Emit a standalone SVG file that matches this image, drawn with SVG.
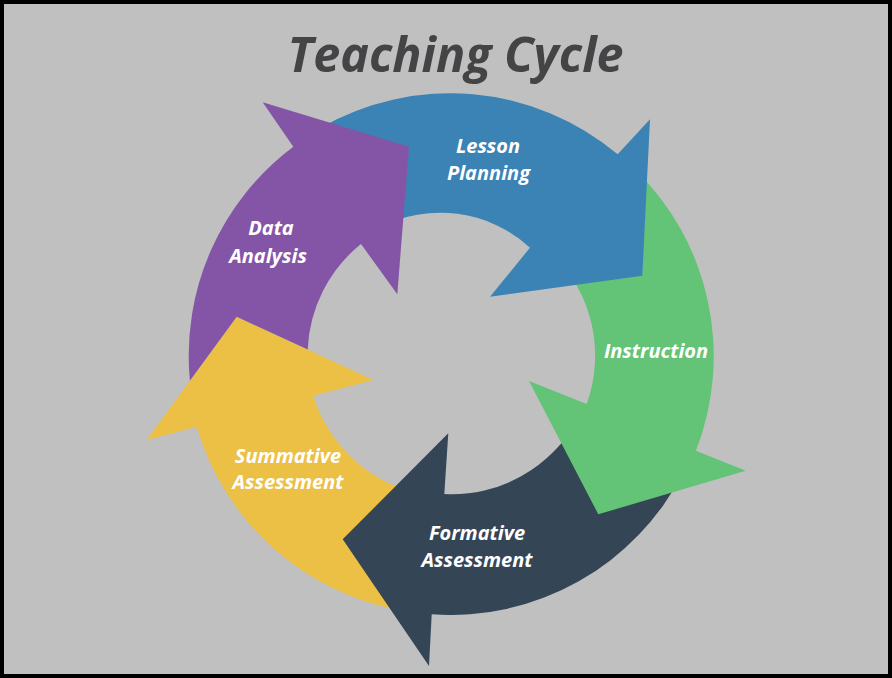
<svg xmlns="http://www.w3.org/2000/svg" width="892" height="678" viewBox="0 0 892 678">
  <style>
    .title { font-family: "Open Sans", "Liberation Sans", sans-serif; font-weight: 700; font-style: italic; font-size: 48px; fill: #444446; }
    .label { font-family: "Open Sans", "Liberation Sans", sans-serif; font-weight: 700; font-style: italic; font-size: 20px; fill: #ffffff; text-anchor: middle; }
  </style>
  <rect x="0" y="0" width="892" height="678" fill="#000000"/>
  <rect x="4" y="4" width="884" height="670" fill="#c0c0c0"/>
  <text class="title" x="455.5" y="72" text-anchor="middle" textLength="336" lengthAdjust="spacingAndGlyphs">Teaching Cycle</text>

  <g id="connectors"></g>

  <g id="summative-assessment">
    <path fill="#ecc045" d="M409.7,611.8 A261,261 0 0 1 196.7,426.7 L146.7,440 L236.7,316.7 L373.3,380 L313.3,395.7 A143,143 0 0 0 428.1,495.2 Z"/>
    <text class="label" x="288" y="463">Summative</text>
    <text class="label" x="288" y="489">Assessment</text>
  </g>

  <g id="formative-assessment">
    <path fill="#344556" d="M683.1,472.5 A261,261 0 0 1 431.7,614.3 L429,666 L342.7,539.3 L448.3,433.3 L444.3,494 A143,143 0 0 0 577.9,418.9 Z"/>
    <text class="label" x="477" y="540">Formative</text>
    <text class="label" x="477" y="567">Assessment</text>
  </g>

  <g id="instruction">
    <path fill="#63c477" d="M635.1,169.4 A261,261 0 0 1 696,450.7 L745.7,470.7 L598.3,514.3 L529,381 L586.7,404 A143,143 0 0 0 551.6,252.9 Z"/>
    <text class="label" x="656" y="358">Instruction</text>
  </g>

  <g id="lesson-planning">
    <path fill="#3b82b5" d="M320,128 A261,261 0 0 1 617.7,154.3 L650,119.3 L642.3,275.7 L490,296.7 L530,247.7 A132.4,132.4 0 0 0 379,227.8 Z"/>
    <text class="label" x="488" y="153">Lesson</text>
    <text class="label" x="488.5" y="180">Planning</text>
  </g>

  <g id="data-analysis">
    <path fill="#8455a7" d="M189.9,380.8 A261,261 0 0 1 293.3,146.7 L262.7,102.3 L409,146.7 L397.3,294.3 L361,244 A143,143 0 0 0 307.7,349.6 L236.7,316.7 Z"/>
    <text class="label" x="271" y="235">Data</text>
    <text class="label" x="268" y="263">Analysis</text>
  </g>
</svg>
